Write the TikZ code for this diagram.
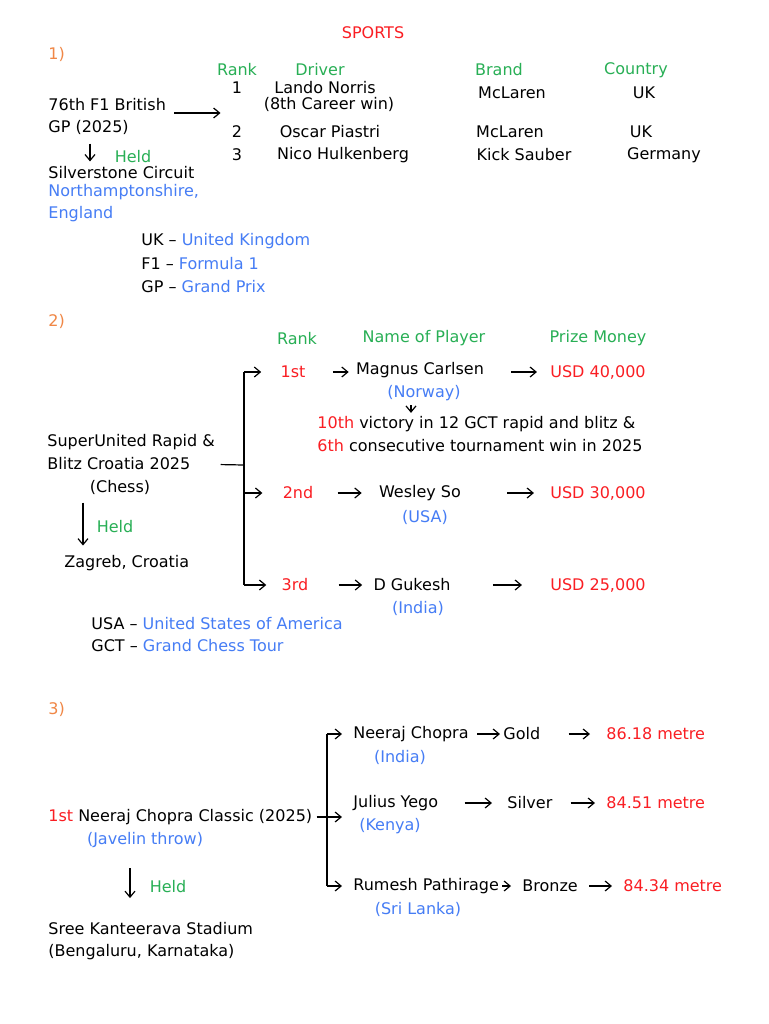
\documentclass[tikz,border=0pt]{standalone}
\usepackage{fontspec}
\setmainfont{DejaVu Sans}
\usetikzlibrary{arrows.meta,positioning,calc}
\definecolor{sred}{RGB}{250,30,35}
\definecolor{sgreen}{RGB}{40,175,85}
\definecolor{sblue}{RGB}{70,125,245}
\definecolor{sorange}{RGB}{240,135,70}

\begin{document}
\begin{tikzpicture}[x=0.5pt,y=-0.5pt,
 every node/.style={font=\fontsize{8}{9.6}\selectfont,inner sep=0pt},
 hd/.style={text=sgreen}, rd/.style={text=sred}, bl/.style={text=sblue},
 num/.style={text=sorange,anchor=west},
 brk/.style={line width=0.6pt},
 arr/.style={brk,-{Straight Barb[length=3pt,width=5pt]}}]
 \useasboundingbox[fill=white] (0,0) rectangle (768,1024);
 \node[rd] (title) at (373,33) {SPORTS};
 % 1) British GP
 \node[num] (sec1) at (48,54) {1)};
 \node[hd] (hrank1) at (237,70) {Rank};
 \node[hd] (hdriver) at (320,70) {Driver};
 \node[hd] (hbrand) at (499,70) {Brand};
 \node[hd] (hcountry) at (636,70) {Country};
 \node (rk1) at (237,88) {1};
 \node (drv1) at (325,88) {Lando Norris};
 \node (win1) at (329,104) {(8th Career win)};
 \node (brd1) at (512,93) {McLaren};
 \node (cty1) at (644,93) {UK};
 \node (rk2) at (237,132) {2};
 \node (drv2) at (330,132) {Oscar Piastri};
 \node (brd2) at (510,132) {McLaren};
 \node (cty2) at (641,132) {UK};
 \node (rk3) at (237,155) {3};
 \node (drv3) at (343,155) {Nico Hulkenberg};
 \node (brd3) at (524,155) {Kick Sauber};
 \node (cty3) at (664,155) {Germany};
 \node[anchor=west] (gpa) at (48,105) {76th F1 British};
 \node[anchor=west] (gpb) at (48,127) {GP (2025)};
 \draw[arr] ([shift={(8,8)}]gpa.east) -- ([shift={(-11,25)}]rk1.west);
 \node[anchor=west] (silv) at (48,173) {Silverstone Circuit};
 \node[bl,anchor=west] (northa) at (48,192) {Northamptonshire,};
 \node[bl,anchor=west] (engl) at (48,214) {England};
 \draw[arr] ([shift={(42,9)}]gpb.south west) -- ([shift={(42,-5)}]silv.north west);
 \node[hd] (held1) at (133,157) {Held};
 \node[anchor=west] (abuk) at (141,241) {UK – \textcolor{sblue}{United Kingdom}};
 \node[anchor=west] (abf1) at (141,264) {F1 – \textcolor{sblue}{Formula 1}};
 \node[anchor=west] (abgp) at (141,287) {GP – \textcolor{sblue}{Grand Prix}};
 % 2) Chess
 \node[num] (sec2) at (48,321) {2)};
 \node[hd] (hrank2) at (297,339) {Rank};
 \node[hd] (hplayer) at (424,338) {Name of Player};
 \node[hd] (hprize) at (598,338) {Prize Money};
 \node[rd] (r1) at (293,372) {1st};
 \node (p1) at (420,370) {Magnus Carlsen};
 \node[rd] (z1) at (598,372) {USD 40,000};
 \node[bl] (c1) at (424,393) {(Norway)};
 \node[anchor=west] (note1) at (317,424) {\textcolor{sred}{10th} victory in 12 GCT rapid and blitz \&};
 \node[anchor=west] (note2) at (317,446) {\textcolor{sred}{6th} consecutive tournament win in 2025};
 \draw[arr,shorten <=2,shorten >=1.5] ($(c1.south)+(-13,0)$) -- ($(c1.south |- note1.north)+(-13,0)$);
 \node[rd] (r2) at (298,493) {2nd};
 \node (p2) at (420,493) {Wesley So};
 \node[rd] (z2) at (598,493) {USD 30,000};
 \node[bl] (c2) at (425,517) {(USA)};
 \node[rd] (r3) at (295,585) {3rd};
 \node (p3) at (412,585) {D Gukesh};
 \node[rd] (z3) at (598,585) {USD 25,000};
 \node[bl] (c3) at (418,608) {(India)};
 \draw[arr,shorten <=13.5,shorten >=3.5] (r1.east) -- (p1.west |- r1.east);
 \draw[arr,shorten <=13.5,shorten >=6.5] (p1.east |- r1.east) -- (z1.west);
 \draw[arr,shorten <=12,shorten >=8.5] (r2.east) -- (p2.west);
 \draw[arr,shorten <=23,shorten >=8] (p2.east) -- (z2.west);
 \draw[arr,shorten <=15,shorten >=5.5] (r3.east) -- (p3.west);
 \draw[arr,shorten <=21,shorten >=14] (p3.east) -- (z3.west);
 \node[anchor=west] (ev2a) at (47,442) {SuperUnited Rapid \&};
 \node[anchor=west] (ev2b) at (47,464) {Blitz Croatia 2025};
 \node (ev2c) at (120,487) {(Chess)};
 \draw[arr] ([shift={(-37,8)}]ev2c.south) -- ([shift={(-37,51)}]ev2c.south);
 \node[hd] (held2) at (115,527) {Held};
 \node[anchor=west] (zag) at (64,563) {Zagreb, Croatia};
 \coordinate (br2) at (244,465);
 \draw[brk,shorten <=15] (ev2b.east) -- (br2);
 \draw[brk] (br2 |- r1) -- (br2 |- r3);
 \draw[arr,shorten >=9.5] (br2 |- r1) -- (r1.west);
 \draw[arr,shorten >=10] (br2 |- r2) -- (r2.west);
 \draw[arr,shorten >=7.5] (br2 |- r3) -- (r3.west);
 \node[anchor=west] (abusa) at (91,624) {USA – \textcolor{sblue}{United States of America}};
 \node[anchor=west] (abgct) at (91,646) {GCT – \textcolor{sblue}{Grand Chess Tour}};
 % 3) Javelin
 \node[num] (sec3) at (48,709) {3)};
 \node[anchor=west] (ev3) at (48,817) {\textcolor{sred}{1st} Neeraj Chopra Classic (2025)};
 \node[bl] (jav) at (145,840) {(Javelin throw)};
 \draw[arr] ([shift={(-15,20)}]jav.south) -- ([shift={(-15,50)}]jav.south);
 \node[hd] (held3) at (168,887) {Held};
 \node[anchor=west] (stad) at (48,929) {Sree Kanteerava Stadium};
 \node[anchor=west] (beng) at (48,952) {(Bengaluru, Karnataka)};
 \node[anchor=west] (nc) at (353,734) {Neeraj Chopra};
 \node[bl] (nci) at (400,757) {(India)};
 \node[anchor=west] (gold) at (503,734) {Gold};
 \node[rd,anchor=west] (m1) at (606,734) {86.18 metre};
 \node[anchor=west] (jy) at (353,803) {Julius Yego};
 \node[bl] (jyk) at (390,826) {(Kenya)};
 \node[anchor=west] (silver) at (507,803) {Silver};
 \node[rd,anchor=west] (m2) at (606,803) {84.51 metre};
 \node[anchor=west] (rp) at (353,886) {Rumesh Pathirage};
 \node[bl] (rps) at (418,909) {(Sri Lanka)};
 \node[anchor=west] (bronze) at (522,886) {Bronze};
 \node[rd,anchor=west] (m3) at (623,886) {84.34 metre};
 \draw[arr,shorten <=4,shorten >=1.5] (nc.east) -- (gold.west);
 \draw[arr,shorten <=14,shorten >=8] (gold.east) -- (m1.west);
 \draw[arr,shorten <=13,shorten >=7.5] (jy.east) -- (silver.west);
 \draw[arr,shorten <=9,shorten >=5.5] (silver.east) -- (m2.west);
 \draw[arr,shorten <=1.5,shorten >=5.5] (rp.east) -- (bronze.west);
 \draw[arr,shorten <=5.5,shorten >=5.5] (bronze.east) -- (m3.west);
 \coordinate (br3) at (327,813);
 \draw[brk] (br3 |- nc) -- (br3 |- rp);
 \draw[arr,shorten >=5.5] (br3 |- nc) -- (nc.west);
 \draw[arr,shorten >=5.5] (br3 |- rp) -- (rp.west);
 \draw[arr,shorten <=2,shorten >=5.5] (ev3.east) -- (ev3.east -| jy.west);
\end{tikzpicture}
\end{document}
